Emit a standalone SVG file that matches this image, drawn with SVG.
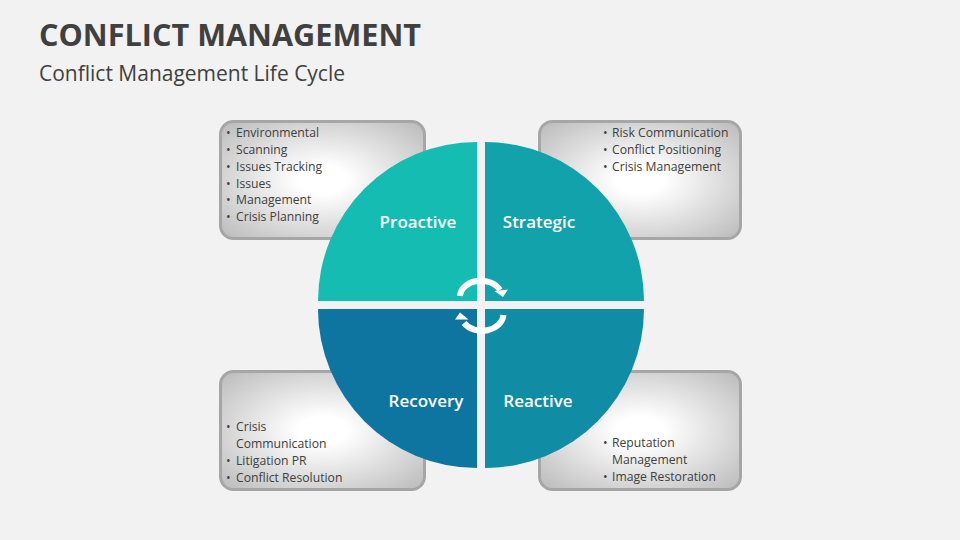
<svg xmlns="http://www.w3.org/2000/svg" width="960" height="540" viewBox="0 0 960 540">
<style>
text{font-family:"Open Sans","Noto Sans","Liberation Sans",sans-serif}
.box{fill:url(#g);stroke:#a6a6a6;stroke-width:3}
.t{font-size:12.2px;fill:#404040}
.l{font-size:17px;font-weight:600;fill:#fff;text-anchor:middle}
.c{fill:none;stroke:#fff;stroke-width:6}
</style>
<defs>
<radialGradient id="g" cx="0.5" cy="0.5" r="0.66"><stop offset="0.18" stop-color="#fff"/><stop offset="1" stop-color="#bfbfbf"/></radialGradient>
</defs>
<rect width="960" height="540" fill="#f2f2f2"/>
<text id="title" x="39" y="45.500" font-size="31" font-weight="700" fill="#404040" textLength="382" lengthAdjust="spacingAndGlyphs">CONFLICT MANAGEMENT</text>
<text id="subtitle" x="39" y="81" font-size="21" fill="#404040" textLength="306" lengthAdjust="spacingAndGlyphs">Conflict Management Life Cycle</text>
<g id="box-proactive"><rect class="box" x="220.500" y="121.500" width="204" height="117" rx="13"/>
<text class="t"><tspan x="226" y="137">•</tspan><tspan x="236" y="137">Environmental</tspan><tspan x="226" y="154">•</tspan><tspan x="236" y="154">Scanning</tspan><tspan x="226" y="171">•</tspan><tspan x="236" y="171">Issues Tracking</tspan><tspan x="226" y="188">•</tspan><tspan x="236" y="188">Issues</tspan><tspan x="226" y="204">•</tspan><tspan x="236" y="204">Management</tspan><tspan x="226" y="221">•</tspan><tspan x="236" y="221">Crisis Planning</tspan></text></g>
<g id="box-strategic"><rect class="box" x="539.500" y="121.500" width="201" height="117" rx="13"/>
<text class="t"><tspan x="603" y="137">•</tspan><tspan x="612" y="137">Risk Communication</tspan><tspan x="603" y="154">•</tspan><tspan x="612" y="154">Conflict Positioning</tspan><tspan x="603" y="171">•</tspan><tspan x="612" y="171">Crisis Management</tspan></text></g>
<g id="box-recovery"><rect class="box" x="220.500" y="371.500" width="204" height="118" rx="13"/>
<text class="t"><tspan x="226" y="431">•</tspan><tspan x="236" y="431">Crisis</tspan><tspan x="236" y="448">Communication</tspan><tspan x="226" y="465">•</tspan><tspan x="236" y="465">Litigation PR</tspan><tspan x="226" y="482">•</tspan><tspan x="236" y="482">Conflict Resolution</tspan></text></g>
<g id="box-reactive"><rect class="box" x="539.500" y="371.500" width="201" height="118" rx="13"/>
<text class="t"><tspan x="603" y="447">•</tspan><tspan x="612" y="447">Reputation</tspan><tspan x="612" y="464">Management</tspan><tspan x="603" y="481">•</tspan><tspan x="612" y="481">Image Restoration</tspan></text></g>
<g id="proactive"><path d="M477 301H318A159 159 0 0 1 477 142Z" fill="#14bcb1"/><text class="l" x="418" y="227.500">Proactive</text></g>
<g id="strategic"><path d="M485 301H644A159 159 0 0 0 485 142Z" fill="#12a2ab"/><text class="l" x="539" y="227.500">Strategic</text></g>
<g id="recovery"><path d="M477 309H318A159 159 0 0 0 477 468Z" fill="#0e75a0"/><text class="l" x="426" y="406.500">Recovery</text></g>
<g id="reactive"><path d="M485 309H644A159 159 0 0 1 485 468Z" fill="#118ca5"/><text class="l" x="538" y="406.500">Reactive</text></g>
<g id="connectors">
<path class="c" d="M460 296A21 16 0 0 1 500 290"/><path d="M494.500 291L508 289.500L503 297Z" fill="#fff"/>
<path class="c" d="M503.500 315A21.500 17 0 0 1 464 323"/><path d="M468.500 319.500L455 319.500L460 312.500Z" fill="#fff"/>
</g>
</svg>
